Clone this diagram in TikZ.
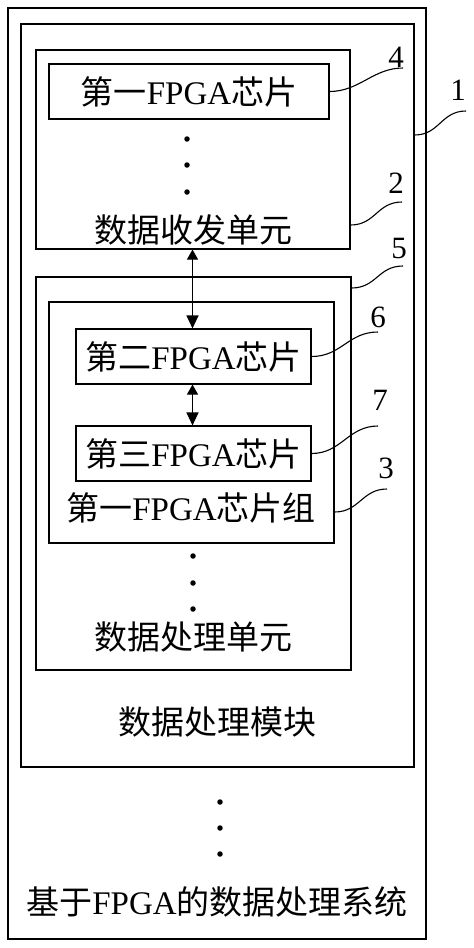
\documentclass[tikz,border=0pt]{standalone}
\usepackage{fontspec}
\setmainfont{Liberation Serif}
\newfontfamily\cjk{Noto Sans CJK SC}
\usetikzlibrary{arrows.meta}
\newcommand{\zh}[1]{{\cjk #1}}
\begin{document}
\begin{tikzpicture}[x=1pt,y=-1pt,
  box/.style={draw,line width=1.1pt,inner sep=0pt,rectangle},
  lbl/.style={inner sep=0pt,font=\fontsize{33}{38}\selectfont},
  num/.style={inner sep=0pt,font=\fontsize{31}{34}\selectfont},
  dotn/.style={circle,fill=black,inner sep=0pt,minimum size=5.5pt},
  dbl/.style={line width=1.1pt,{Triangle[length=10pt,width=11pt]}-{Triangle[length=13pt,width=12pt]}},
  lead/.style={line width=1.1pt}]
\useasboundingbox (0,0) rectangle (474,948);
% boxes
\node[box,minimum width=418pt,minimum height=931pt] (sys) at (217,473.5) {};
\node[box,minimum width=393pt,minimum height=743pt] (mod) at (217.5,395.5) {};
\node[box,minimum width=314pt,minimum height=199pt] (tx) at (193,149.5) {};
\node[box,minimum width=280pt,minimum height=55pt,lbl] (c1) at (189,91.5) {\zh{第一}FPGA\zh{芯片}};
\node[box,minimum width=315pt,minimum height=393pt] (pu) at (193.5,473.5) {};
\node[box,minimum width=285pt,minimum height=241pt] (grp) at (191.5,422.5) {};
\node[box,minimum width=235pt,minimum height=55pt,lbl] (c2) at (193.5,356.5) {\zh{第二}FPGA\zh{芯片}};
\node[box,minimum width=235pt,minimum height=55pt,lbl] (c3) at (193.5,453.5) {\zh{第三}FPGA\zh{芯片}};
% texts
\node[lbl] (ttx) at (193,230) {\zh{数据收发单元}};
\node[lbl] (tgrp) at (191,508) {\zh{第一}FPGA\zh{芯片组}};
\node[lbl] (tpu) at (193,637) {\zh{数据处理单元}};
\node[lbl] (tmod) at (217,722) {\zh{数据处理模块}};
\node[lbl] (tsys) at (217,902) {\zh{基于}FPGA\zh{的数据处理系统}};
% dots
\node[dotn] (d1) at (187,139) {};
\node[dotn] (d2) at (187,165) {};
\node[dotn] (d3) at (187,192) {};
\node[dotn] (d4) at (193,556) {};
\node[dotn] (d5) at (193,583) {};
\node[dotn] (d6) at (193,609) {};
\node[dotn] (d7) at (220,802) {};
\node[dotn] (d8) at (220,828) {};
\node[dotn] (d9) at (220,854) {};
% arrows
\draw[dbl] (tx.south -| 192.5,0) -- (c2.north -| 192.5,0);
\draw[dbl] (c2.south -| 192.5,0) -- (c3.north -| 192.5,0);
% number labels
\node[num] (n4) at (396,57) {4};
\node[num] (n1) at (458,90) {1};
\node[num] (n2) at (396,183) {2};
\node[num] (n5) at (399,248) {5};
\node[num] (n6) at (378,317) {6};
\node[num] (n7) at (380,400) {7};
\node[num] (n3) at (386,468) {3};
% leader ends
\coordinate (e4) at (403,68);
\coordinate (e1) at (466,111);
\coordinate (e2) at (402,202);
\coordinate (e5) at (403,266);
\coordinate (e6) at (378,332);
\coordinate (e7) at (378,426);
\coordinate (e3) at (387,489);
\draw[lead] (c1.east) .. controls +(30,0) and +(-30,0) .. (e4);
\draw[lead] (mod.east |- 0,135) .. controls +(25,0) and +(-25,0) .. (e1);
\draw[lead] (tx.east |- 0,225) .. controls +(25,0) and +(-25,0) .. (e2);
\draw[lead] (pu.east |- 0,288) .. controls +(25,0) and +(-25,0) .. (e5);
\draw[lead] (c2.east) .. controls +(30,0) and +(-30,0) .. (e6);
\draw[lead] (c3.east) .. controls +(30,0) and +(-30,0) .. (e7);
\draw[lead] (grp.east |- 0,512) .. controls +(25,0) and +(-25,0) .. (e3);
\end{tikzpicture}
\end{document}
